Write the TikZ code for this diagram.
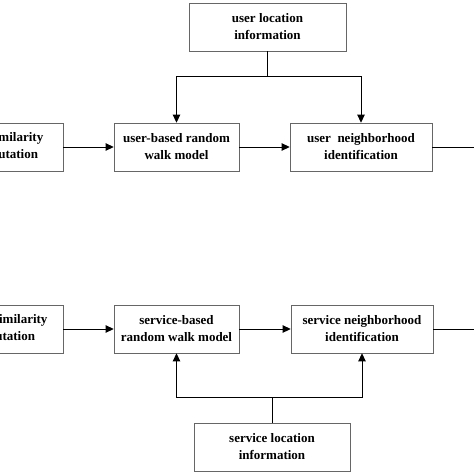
\documentclass[tikz,border=0pt]{standalone}
\usepackage{fontspec}
\setmainfont{Liberation Serif}
\usetikzlibrary{arrows.meta}
\begin{document}
\begin{tikzpicture}[x=1pt,y=-1pt,
    box/.style={draw=black!60,line width=0.7pt,minimum height=48pt,align=center,
        inner sep=0pt,font=\fontsize{13}{17}\selectfont\bfseries},
    arr/.style={-{Triangle[length=8pt,width=7.5pt]},line width=0.9pt}]
        \useasboundingbox (0,0) rectangle (474,474);
        \clip (0,0) rectangle (474,474);
        % user part
        \node[box,minimum width=157pt] (ulocinfo) at (267.5,27) {user location\\information};
        \node[box,minimum width=120pt] (usim) at (3,147) {user similarity\\computation};
        \node[box,minimum width=125pt] (urwm) at (176.5,147) {user-based random\\walk model};
        \node[box,minimum width=142pt] (unbr) at (361,147) {user\ \ neighborhood\\identification};
        \coordinate (uend) at (474,147);
        \draw[line width=0.9pt] (ulocinfo.south) -- ++(0,25) coordinate (ujoin);
        \draw[arr] (ujoin) -| (urwm.north);
        \draw[arr] (ujoin) -| (unbr.north);
        \draw[arr] (usim) -- (urwm);
        \draw[arr] (urwm) -- (unbr);
        \draw[line width=0.9pt] (unbr) -- (uend);
        % service part
        \node[box,minimum width=126pt] (ssim) at (0,329) {service similarity\\computation};
        \node[box,minimum width=125pt] (srwm) at (176.5,329) {service-based\\random walk model};
        \node[box,minimum width=142pt] (snbr) at (362,329) {service neighborhood\\identification};
        \node[box,minimum width=156pt] (slocinfo) at (272,447) {service location\\information};
        \coordinate (send) at (474,329);
        \draw[line width=0.9pt] (slocinfo.north) -- ++(0,-25) coordinate (sjoin);
        \draw[arr] (sjoin) -| (srwm.south);
        \draw[arr] (sjoin) -| (snbr.south);
        \draw[arr] (ssim) -- (srwm);
        \draw[arr] (srwm) -- (snbr);
        \draw[line width=0.9pt] (snbr) -- (send);
\end{tikzpicture}
\end{document}
